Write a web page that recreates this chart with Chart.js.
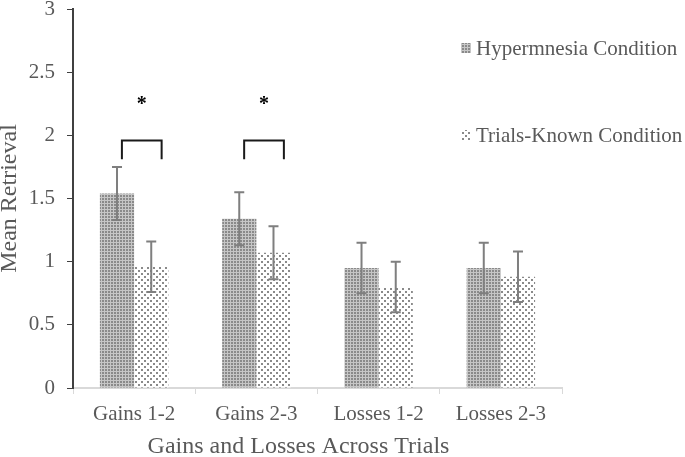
<!DOCTYPE html>
<html>
<head>
<meta charset="utf-8">
<script src="https://cdn.jsdelivr.net/npm/chart.js@4"></script>
<style>
  body { margin:0; background:#fff; }
  #wrap { width:685px; height:457px; }
</style>
</head>
<body>
<div id="wrap"><canvas id="chart" width="685" height="457"></canvas></div>
<script>
// ===== Data =====
const categories = ["Gains 1-2", "Gains 2-3", "Losses 1-2", "Losses 2-3"];
const hyperMeans = [1.54, 1.34, 0.95, 0.95];
const hyperErr = [0.21, 0.21, 0.20, 0.20];
const knownMeans = [0.96, 1.07, 0.80, 0.88];
const knownErr = [0.20, 0.21, 0.20, 0.20];
const yTicks = [0, 0.5, 1, 1.5, 2, 2.5, 3];
const sigCats = [0, 1];        // categories with significance bracket
const bracketTop = 1.96, bracketLeg = 1.81, starAt = 2.27;

const FONT = "'Liberation Serif', 'Times New Roman', serif";
const GREY = "#595959";

// ===== Patterns =====
function makePattern(bg, dot, size, dots){
  const c = document.createElement("canvas");
  c.width = size; c.height = size;
  const g = c.getContext("2d");
  g.fillStyle = bg; g.fillRect(0,0,size,size);
  g.fillStyle = dot;
  dots.forEach(d => g.fillRect(d[0], d[1], 2, 2));
  return g.createPattern(c, "repeat");
}
const ctx = document.getElementById("chart").getContext("2d");
const hyperFill = makePattern("#c6c6c6", "#8a8a8a", 3, [[0,0]]);
const knownFill = makePattern("#ffffff", "#8a8a8a", 6, [[0,0],[3,3]]);

// ===== Plugins =====
const extras = {
  id: "extras",
  afterDatasetsDraw(chart){
    const g = chart.ctx, y = chart.scales.y, x = chart.scales.x;
    // error bars
    g.save();
    g.strokeStyle = "#7f7f7f"; g.lineWidth = 2;
    [[0, hyperMeans, hyperErr], [1, knownMeans, knownErr]].forEach(([di, m, e]) => {
      chart.getDatasetMeta(di).data.forEach((bar, i) => {
        const top = y.getPixelForValue(m[i] + e[i]);
        const bot = y.getPixelForValue(m[i] - e[i]);
        g.beginPath();
        g.moveTo(bar.x, top); g.lineTo(bar.x, bot);
        g.moveTo(bar.x - 5, top); g.lineTo(bar.x + 5, top);
        g.moveTo(bar.x - 5, bot); g.lineTo(bar.x + 5, bot);
        g.stroke();
      });
    });
    // significance brackets
    g.strokeStyle = "#1a1a1a"; g.lineWidth = 2;
    const w = x.getPixelForValue(1) - x.getPixelForValue(0);
    sigCats.forEach(i => {
      const cx = x.getPixelForValue(i);
      const l = cx - 0.1 * w, r = cx + 0.225 * w;
      g.beginPath();
      g.moveTo(l, y.getPixelForValue(bracketLeg));
      g.lineTo(l, y.getPixelForValue(bracketTop));
      g.lineTo(r, y.getPixelForValue(bracketTop));
      g.lineTo(r, y.getPixelForValue(bracketLeg));
      g.stroke();
      g.fillStyle = "#000";
      g.font = "bold 20px " + FONT;
      g.textAlign = "center"; g.textBaseline = "middle";
      g.fillText("*", (l + r) / 2, y.getPixelForValue(starAt) + 4);
    });
    g.restore();
  },
  afterDraw(chart){
    const g = chart.ctx, a = chart.chartArea;
    g.save();
    // axis titles (x title sits a little left of the plot centre in the original)
    g.fillStyle = GREY;
    g.font = "24px " + FONT;
    g.textAlign = "center"; g.textBaseline = "middle";
    g.fillText("Gains and Losses Across Trials", (a.left + a.right) / 2 - 19, 447);
    g.save();
    g.translate(10, (a.top + a.bottom) / 2);
    g.rotate(-Math.PI / 2);
    g.fillText("Mean Retrieval", 0, 0);
    g.restore();
    // legend
    g.font = "21px " + FONT;
    g.textAlign = "left";
    [["Hypermnesia Condition", hyperFill, 48], ["Trials-Known Condition", knownFill, 135]].forEach(([t, f, ly]) => {
      g.fillStyle = f;
      g.fillRect(461, ly - 5, 10, 10);
      g.fillStyle = GREY;
      g.fillText(t, 476, ly + 1);
    });
    g.restore();
  }
};

// ===== Chart =====
new Chart(ctx, {
  type: "bar",
  data: {
    labels: categories,
    datasets: [
      { label: "Hypermnesia Condition", data: hyperMeans, backgroundColor: hyperFill },
      { label: "Trials-Known Condition", data: knownMeans, backgroundColor: knownFill }
    ]
  },
  options: {
    responsive: false,
    animation: false,
    devicePixelRatio: 1,
    layout: { padding: { top: 0, right: 123, bottom: 0, left: 0 } },
    datasets: { bar: { categoryPercentage: 0.56, barPercentage: 1.0 } },
    plugins: { legend: { display: false }, tooltip: { enabled: false } },
    scales: {
      x: {
        afterFit(s){ s.height = 69; s.paddingLeft = 0; s.paddingRight = 0; },
        grid: { offset: true, drawOnChartArea: false, color: "#d9d9d9", tickLength: 6 },
        border: { color: "#d9d9d9", width: 2 },
        ticks: { color: GREY, font: { family: FONT, size: 21 }, padding: 8 }
      },
      y: {
        min: 0, max: 3,
        afterBuildTicks(s){ s.ticks = yTicks.map(v => ({ value: v })); },
        afterFit(s){ s.width = 73; s.paddingTop = 9; s.paddingBottom = 0; },
        grid: { drawOnChartArea: false, color: "#404040", tickLength: 6 },
        border: { color: "#404040", width: 2 },
        ticks: { color: GREY, font: { family: FONT, size: 21 }, padding: 12, callback: v => String(v) }
      }
    }
  },
  plugins: [extras]
});
</script>
</body>
</html>
